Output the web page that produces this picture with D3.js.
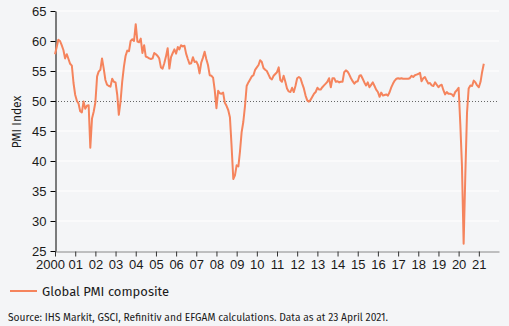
<!DOCTYPE html>
<html>
<head>
<meta charset="utf-8">
<script src="https://cdn.jsdelivr.net/npm/d3@7"></script>
<style>
  body { margin: 0; background: #f4f5f7; }
  svg { display: block; font-family: "Fira Sans", Roboto, "Open Sans", sans-serif; }
</style>
</head>
<body>
<svg id="chart" width="509" height="326"></svg>
<script>
//
// Data: Global PMI composite, monthly, Jan 2000 - Apr 2021
//
var startYear = 2000
var pmi2000s = [
  57.8, 59.0, 60.2, 60.0, 59.3, 58.5, 57.1, 57.8, 57.0, 56.2, 55.9, 53.0, // 2000
  51.0, 50.0, 49.6, 48.3, 48.1, 49.9, 48.7, 49.2, 49.3, 42.2, 47.1, 48.2, // 2001
  49.8, 54.1, 54.9, 55.2, 57.1, 55.4, 53.5, 52.7, 52.5, 52.4, 53.7, 53.2, // 2002
  53.1, 51.0, 47.7, 49.9, 53.2, 55.7, 57.5, 58.4, 58.3, 60.0, 60.3, 60.0, // 2003
  62.8, 59.9, 59.8, 60.4, 58.0, 59.3, 57.4, 57.3, 57.1, 57.0, 57.1, 58.0, // 2004
  57.8, 57.5, 57.1, 55.6, 55.4, 56.3, 57.4, 58.8, 55.4, 57.3, 58.0, 58.6, // 2005
  57.9, 59.0, 58.6, 59.3, 59.1, 59.2, 57.9, 57.0, 56.2, 56.3, 57.3, 56.5, // 2006
  56.6, 56.0, 54.6, 56.4, 57.2, 58.2, 57.0, 56.0, 54.3, 54.2, 53.9, 51.8, // 2007
  48.8, 51.7, 51.3, 51.2, 51.4, 49.7, 49.2, 48.5, 47.3, 42.5, 37.0, 37.6, // 2008
  39.3, 39.1, 41.5, 44.8, 46.5, 49.2, 52.5, 53.1, 53.6, 54.1, 54.3, 55.2  // 2009
]
var pmi2010s = [
  55.6, 56.0, 56.8, 56.5, 55.5, 55.2, 55.0, 54.4, 53.8, 53.6, 54.2, 54.5, // 2010
  54.8, 55.6, 53.5, 53.2, 54.2, 53.2, 52.1, 51.6, 51.5, 52.2, 51.5, 52.5, // 2011
  53.8, 54.0, 53.8, 52.9, 52.1, 50.9, 50.1, 49.9, 50.2, 50.7, 51.2, 51.5, // 2012
  52.2, 51.9, 51.9, 52.3, 52.6, 52.9, 53.2, 53.8, 52.3, 53.8, 53.8, 53.2, // 2013
  53.3, 53.1, 53.2, 53.2, 54.8, 55.1, 54.9, 54.4, 53.8, 53.3, 52.9, 53.2, // 2014
  53.3, 54.2, 54.3, 53.7, 53.1, 52.6, 53.1, 52.3, 52.7, 53.1, 52.5, 51.9, // 2015
  51.5, 50.7, 51.4, 50.9, 51.0, 51.1, 50.9, 51.5, 52.3, 52.9, 53.4, 53.7, // 2016
  53.8, 53.7, 53.8, 53.7, 53.7, 53.7, 53.7, 53.8, 54.2, 54.0, 54.3, 54.4, // 2017
  54.5, 54.7, 53.3, 53.8, 54.0, 53.4, 52.9, 53.0, 52.6, 52.5, 53.1, 52.7, // 2018
  52.3, 52.6, 52.7, 51.8, 51.1, 51.5, 51.2, 51.2, 51.1, 50.8, 51.5, 51.8  // 2019
]
var pmi2020s = [
  52.2, 46.1, 39.4, 26.2, 37.5, 48.0, 52.1, 52.6, 52.5, 53.4, 53.1, 52.6, // 2020
  52.3, 53.2, 54.8, 56.2                                                  // 2021
]
var seriesName = 'Global PMI composite'
var yTicks = [25, 30, 35, 40, 45, 50, 55, 60, 65]
var xTickYears = d3.range(2000, 2022)
var yLabel = 'PMI Index'
var sourceText = 'Source: IHS Markit, GSCI, Refinitiv and EFGAM calculations. Data as at 23 April 2021.'

//
// Configuration
//
var colorLine = '#f5845d'
var colorGrid = '#ffffff'
var colorBg = '#f4f5f7'
var colorText = '#1a1a1a'

var margin = { left: 55, right: 10, top: 11, bottom: 75 }
var width = 509, height = 326

var svg = d3.select('#chart')
svg.append('rect').attr('width', width).attr('height', height).attr('fill', colorBg)

var values = pmi2000s.concat(pmi2010s, pmi2020s)
var data = values.map(function (v, i) {
  return { date: new Date(startYear, i, 1), value: v }
})

var x = d3.scaleTime()
  .domain([new Date(2000, 0, 1), new Date(2022, 0, 1)])
  .range([margin.left, width - margin.right])
var y = d3.scaleLinear()
  .domain([25, 65])
  .range([height - margin.bottom, margin.top])

// gridlines
svg.append('g')
  .selectAll('line')
  .data(yTicks.filter(function (d) { return d !== 25 && d !== 50 }))
  .join('line')
  .attr('x1', x.range()[0]).attr('x2', x.range()[1])
  .attr('y1', function (d) { return y(d) }).attr('y2', function (d) { return y(d) })
  .attr('stroke', colorGrid).attr('stroke-width', 1.2)

// 50 reference line
svg.append('line')
  .attr('x1', x.range()[0]).attr('x2', x.range()[1] - 2)
  .attr('y1', Math.round(y(50)) + 0.5).attr('y2', Math.round(y(50)) + 0.5)
  .attr('stroke', '#666').attr('stroke-width', 1)
  .attr('stroke-dasharray', '1,2')

// x axis
var xAxis = d3.axisBottom(x)
  .tickValues(xTickYears.map(function (yr) { return new Date(yr, 0, 1) }))
  .tickFormat(function (d) {
    var yr = d.getFullYear()
    return yr === 2000 ? '2000' : d3.timeFormat('%y')(d)
  })
  .tickSize(5)
  .tickSizeOuter(0)
  .tickPadding(3)

var gx = svg.append('g')
  .attr('transform', 'translate(0,' + (Math.round(y(25)) + 0.5) + ')')
  .call(xAxis)
gx.select('.domain').attr('stroke', '#888')
gx.selectAll('.tick line').attr('stroke', '#333')
gx.selectAll('.tick text')
  .attr('fill', colorText)
  .style('font-size', '13px')
  .attr('dx', function (d) { return d.getFullYear() === 2000 ? -5 : 0 })

// y axis
var yAxis = d3.axisLeft(y)
  .tickValues(yTicks)
  .tickSize(5)
  .tickSizeOuter(0)
  .tickPadding(4)

var gy = svg.append('g')
  .attr('transform', 'translate(' + (margin.left + 0.5) + ',0)')
  .call(yAxis)
gy.select('.domain').attr('stroke', '#000')
gy.selectAll('.tick line').attr('stroke', '#000')
gy.selectAll('.tick text').attr('fill', colorText).style('font-size', '13px')

svg.append('text')
  .attr('transform', 'translate(21,122) rotate(-90)')
  .attr('text-anchor', 'middle')
  .attr('fill', colorText)
  .style('font-size', '12px')
  .text(yLabel)

// the series
var line = d3.line()
  .x(function (d) { return x(d.date) })
  .y(function (d) { return y(d.value) })

svg.append('path')
  .datum(data)
  .attr('fill', 'none')
  .attr('stroke', colorLine)
  .attr('stroke-width', 2)
  .attr('stroke-linejoin', 'round')
  .attr('d', line)

// legend
var legend = svg.append('g').attr('transform', 'translate(10,291)')
legend.append('line')
  .attr('x1', 0).attr('x2', 27)
  .attr('stroke', colorLine).attr('stroke-width', 2)
legend.append('text')
  .attr('x', 32).attr('y', 5)
  .attr('fill', colorText)
  .style('font-size', '13px')
  .text(seriesName)

// source
svg.append('text')
  .attr('x', 8).attr('y', 321)
  .attr('fill', colorText)
  .style('font-size', '10.5px')
  .attr('textLength', 380)
  .attr('lengthAdjust', 'spacingAndGlyphs')
  .text(sourceText)
</script>
</body>
</html>
